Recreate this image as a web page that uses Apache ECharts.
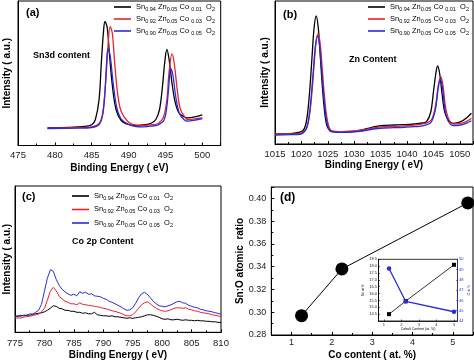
<!DOCTYPE html>
<html><head><meta charset="utf-8">
<script src="https://cdn.jsdelivr.net/npm/echarts@6/dist/echarts.min.js"></script>
<style>html,body{margin:0;padding:0;background:#fff}#c{width:474px;height:363px}</style>
</head><body><div id="c"></div>
<script>
// ---------- Panel (a) Sn3d ----------
const A_black_E = [479,482,484,485,485.5,486,486.3,486.6,486.8,487.1,487.4,487.8,488.3,489,490,491,492,493,493.7,494.2,494.6,494.9,495.2,495.5,495.9,496.3,496.8,497.5,498,499,500];
const A_black_I = [17.7,18,19,20.7,26,46,82,114,124,118,92,60,36,25,21,20,20.7,22,26,36,59,82.7,96,86,62,44,33,28.7,27.7,28.7,30.7];
const A_red_E = [479,483,485,486,486.5,486.9,487.2,487.5,487.8,488.1,488.5,489,490,491,492,493,494,494.7,495.2,495.5,495.9,496.2,496.6,497,497.6,498,499,500];
const A_red_I = [17.3,18,18.7,22,32.7,64,98,119,112,84,53,34,23.3,20.3,20,20.7,22,27.7,46,74,91.7,82,56,37,28.7,26,26.7,27.7];
const A_blue_E = [479,483,485,486,486.5,486.8,487.0,487.2,487.5,487.9,488.4,489,490,491,492,493,494,494.8,495.2,495.5,495.7,496,496.4,496.9,497.5,498,499,500];
const A_blue_I = [17,17.3,18,21,31,54,80,96.7,90,63,38,26.5,21,19,18.7,19.3,20.7,25.3,39.3,63,77,71,49,32,26,24.3,25.3,27];

// ---------- Panel (b) Zn ----------
const B_black_E = [1015,1017.9,1019.4,1020.3,1020.8,1021.2,1021.6,1022.0,1022.4,1022.8,1023.2,1023.6,1024.0,1024.4,1024.8,1025.3,1026.0,1027.3,1028.7,1030.7,1032.6,1034.1,1035.6,1037.5,1039.5,1041.4,1042.9,1043.7,1044.5,1045.05,1045.5,1045.8,1046.2,1046.6,1047.1,1047.8,1048.8,1050.2,1051.2,1052.2];
const B_black_I = [10,10.3,11.5,13.5,19,32,55,86,116,128,116,86,55,32,19,14,12.5,12,12,13.3,15.7,17.7,18.7,19,19.3,20,21,22.3,32,54,72,78,70,52,33,24,20.7,22.3,25.7,30.7];
const B_red_E = [1015,1017.9,1019.9,1020.65,1021.15,1021.55,1021.95,1022.35,1022.75,1023.15,1023.55,1023.95,1024.35,1024.75,1025.15,1025.65,1026.5,1027.7,1029.7,1031.6,1033.6,1035.6,1037.5,1039.5,1041.4,1043.4,1044.6,1045.4,1045.9,1046.4,1046.8,1047.3,1047.9,1048.8,1050.2,1051.2,1052.2];
const B_red_I = [10,10,10.7,13.3,18.2,29,48.6,75,100.6,110.7,100.6,75,48.6,29,18.2,13.3,12.5,12.3,13,14,16,17.3,17.3,18,19,20.7,24,38,58,67.3,59,37,25,20,20.7,22.3,25.7];
const B_blue_E = [1015,1017.9,1019.9,1020.55,1021.05,1021.45,1021.85,1022.25,1022.65,1023.05,1023.45,1023.85,1024.25,1024.65,1025.05,1025.55,1026.4,1027.7,1029.7,1031.6,1033.6,1035.6,1037.5,1039.5,1041.4,1043.4,1044.6,1045.4,1045.9,1046.3,1046.7,1047.2,1047.8,1048.8,1050.2,1051.2,1052.2];
const B_blue_I = [9,9.3,10,12.3,17,27.5,47,73,97.8,108,97.8,73,47,27.5,17,12.3,11.9,11.7,12,13,15,16,16.3,16.7,17.3,18.7,22,35,55,64.7,57,34,23,18.3,19,20.7,23.3];

// ---------- Panel (c) Co 2p ----------
const C_E = [775,775.5,776,776.5,777,777.5,778,778.5,779,779.5,
  780,780.5,781,781.5,782,782.5,783,783.5,784,784.5,
  785,785.5,786,786.5,787,787.5,788,788.5,789,789.5,
  790,790.5,791,791.5,792,792.5,793,793.5,794,794.5,
  795,795.5,796,796.5,797,797.5,798,798.5,799,799.5,
  800,800.5,801,801.5,802,802.5,803,803.5,804,804.5,
  805,805.5,806,806.5,807,807.5,808,808.5,809,809.5,810];
const C_blue_I = [15.7,16.5,16.0,17.2,16.8,18.5,18.2,20.0,22.0,28.0,
  41.0,54.0,62.5,61.0,53.0,47.0,43.0,40.5,38.5,37.0,
  38.0,36.5,40.5,39.0,40.0,38.0,38.5,36.5,36.0,35.5,
  34.0,33.0,31.0,30.0,28.5,27.0,25.5,23.5,22.0,22.5,
  24.5,29.0,34.5,38.5,40.0,38.0,34.5,31.0,28.5,26.5,
  26.0,25.5,26.5,27.5,29.0,30.5,31.0,29.5,29.0,27.0,
  26.0,25.0,24.5,23.0,22.5,21.5,21.0,20.5,19.5,19.0,18.0];
const C_red_I = [14.0,14.5,14.2,15.3,15.7,16.0,16.8,17.5,18.3,20.5,
  24.0,32.0,41.0,45.0,41.5,36.0,33.5,31.0,30.0,28.5,
  28.5,27.5,29.5,28.0,27.5,27.0,26.5,26.0,25.5,25.0,
  24.0,23.5,22.5,21.5,21.0,20.0,19.0,17.5,16.5,16.5,
  17.5,20.5,24.0,27.5,29.5,30.5,28.5,26.0,24.0,22.5,
  21.5,21.0,21.5,22.5,24.0,24.5,24.5,24.0,24.5,23.0,
  22.5,21.5,21.0,20.0,19.5,19.0,18.5,17.5,17.0,16.5,15.5];
const C_black_I = [16.3,16.0,17.0,16.5,17.3,17.0,18.0,18.5,19.0,19.5,
  20.5,22.0,24.0,26.5,26.0,24.0,23.5,22.0,22.0,21.0,
  21.0,20.0,20.0,19.0,19.5,18.5,18.5,20.0,17.5,17.0,
  16.5,16.5,16.0,16.5,15.5,15.5,15.0,14.5,14.0,14.5,
  14.0,14.5,15.0,15.5,16.5,17.5,17.5,17.0,16.0,15.0,
  13.5,13.0,13.5,12.5,12.5,13.0,12.5,12.0,12.5,12.0,
  12.0,11.5,12.0,11.5,11.5,11.0,11.0,10.5,10.5,10.0,9.7];

// ---------- Panel (d) Sn:O ratio + inset ----------
const D_co = [1.25, 2.25, 5.37];
const D_ratio = [0.297, 0.338, 0.396];
const INS_co = [1.3, 2.25, 5.0];
const INS_sn = [14.5, 15.45, 18.1];
const INS_o = [49.1, 45.9, 44.9];

// legend labels: [Sn, Zn, Co]
const LEG = {k: ['0.94','0.05','0.01'], r: ['0.92','0.05','0.03'], b: ['0.90','0.05','0.05']};

const FONT = '"Liberation Sans", Arial, sans-serif';
const BLACK = '#000', RED = '#e8232a', BLUE = '#2b2bdb';

function zip(E, I) { return E.map((e, i) => [e, I[i]]); }

function specX(g, min, max, name, nameGap, margin, showMax) {
  return {gridIndex: g, type: 'value', min, max, interval: 5, name, nameLocation: 'middle', nameGap,
    nameTextStyle: {fontFamily: FONT, fontWeight: 'bold', fontSize: 10, color: '#000'},
    axisLine: {show: true, onZero: false, lineStyle: {color: '#000', width: 1}},
    axisTick: {show: true, inside: true, length: 3, lineStyle: {color: '#000', width: 1}},
    minorTick: {show: true, splitNumber: 2, length: 2, lineStyle: {color: '#000', width: 1}},
    splitLine: {show: false},
    axisLabel: {fontFamily: FONT, fontSize: 9.5, color: '#222', margin, showMaxLabel: showMax, formatter: v => String(v)}};
}
function specY(g, max, nameGap) {
  return {gridIndex: g, type: 'value', min: 0, max, name: 'Intensity ( a.u.)', nameLocation: 'middle', nameGap,
    nameTextStyle: {fontFamily: FONT, fontWeight: 'bold', fontSize: 10, color: '#000'},
    axisLine: {show: true, onZero: false, lineStyle: {color: '#000', width: 1}},
    axisTick: {show: false}, axisLabel: {show: false}, splitLine: {show: false}};
}
function spec(name, ai, data, color, width, smooth) {
  return {type: 'line', name, xAxisIndex: ai, yAxisIndex: ai, data, symbol: 'none', smooth,
    lineStyle: {color, width}, itemStyle: {color}, silent: true, animation: false};
}
function grid(left, top, width, height) {
  return {left, top, width, height, show: true, borderColor: '#000', borderWidth: 1, backgroundColor: 'transparent'};
}
const legendRich = {
  a: {fontFamily: FONT, fontSize: 7.5, color: '#000', lineHeight: 9, verticalAlign: 'top'},
  s: {fontFamily: FONT, fontSize: 5.5, color: '#000', lineHeight: 6, padding: [4, 0, 0, 0]}
};
function legendFmt(n) {
  const m = LEG[n];
  return '{a|Sn}{s|' + m[0] + '}{a| Zn}{s|' + m[1] + '}{a| Co }{s|' + m[2] + '}{a|  O}{s|2}';
}
function legend(left, top, gap) {
  return {left, top, orient: 'vertical', icon: 'rect', itemWidth: 17, itemHeight: 1.6, itemGap: gap, padding: 0,
    data: ['k', 'r', 'b'], formatter: legendFmt, selectedMode: false,
    textStyle: {rich: legendRich}};
}
function label(text, x, y, size) {
  return {type: 'text', x, y, style: {text, font: 'bold ' + size + 'px ' + FONT, fill: '#000', verticalAlign: 'middle', align: 'left'}};
}

const option = {
  backgroundColor: '#fff',
  animation: false,
  grid: [
    grid(18, 1, 202.7, 144.5),
    grid(275, 1, 198, 143),
    grid(15, 186, 206, 146.3),
    grid(271.3, 187, 201.7, 148),
    {left: 378.5, top: 259.3, width: 79, height: 61.7, show: true, borderColor: '#000', borderWidth: 0.8, backgroundColor: '#fff'}
  ],
  xAxis: [
    specX(0, 475, 502.5, 'Binding Energy ( eV)', 17.5, 5, false),
    specX(1, 1015, 1052.5, 'Binding Energy ( eV)', 16, 5, false),
    specX(2, 775, 810, 'Binding Energy ( eV)', 17.5, 6, true),
    {gridIndex: 3, type: 'value', min: 0.5, max: 5.5, name: 'Co content ( at. %)', nameLocation: 'middle', nameGap: 15,
      nameTextStyle: {fontFamily: FONT, fontWeight: 'bold', fontSize: 10, color: '#000'},
      axisLine: {show: true, onZero: false, lineStyle: {color: '#000'}},
      axisTick: {inside: true, length: 3, lineStyle: {color: '#000'}},
      minorTick: {show: true, splitNumber: 2, length: 2, lineStyle: {color: '#000'}},
      splitLine: {show: false},
      axisLabel: {fontFamily: FONT, fontSize: 9, color: '#222', margin: 3.5, showMinLabel: false, showMaxLabel: false}},
    {gridIndex: 4, type: 'value', min: 0.7, max: 5.2, name: 'Cobalt Content (at. %)', nameLocation: 'middle', nameGap: 6,
      nameTextStyle: {fontFamily: FONT, fontSize: 3.5, color: '#000'},
      axisLine: {show: true, onZero: false, lineStyle: {color: '#000', width: 0.8}},
      axisTick: {inside: true, length: 1.5, lineStyle: {color: '#000', width: 0.6}},
      splitLine: {show: false},
      axisLabel: {fontFamily: FONT, fontSize: 4, color: '#222', margin: 1.5, showMinLabel: false, showMaxLabel: false}}
  ],
  yAxis: [
    specY(0, 144.5, 6),
    specY(1, 143, 4.5),
    specY(2, 146.3, 3),
    {gridIndex: 3, type: 'value', min: 0.28, max: 0.41, interval: 0.02, name: 'Sn:O atomic  ratio', nameLocation: 'middle', nameGap: 25,
      nameTextStyle: {fontFamily: FONT, fontWeight: 'bold', fontSize: 10, color: '#000'},
      axisLine: {show: true, onZero: false, lineStyle: {color: '#000'}},
      axisTick: {inside: true, length: 3, lineStyle: {color: '#000'}},
      minorTick: {show: true, splitNumber: 2, length: 2, lineStyle: {color: '#000'}},
      splitLine: {show: false},
      axisLabel: {fontFamily: FONT, fontSize: 9, color: '#222', margin: 5, showMaxLabel: false, formatter: v => v.toFixed(2)}},
    {gridIndex: 4, type: 'value', min: 14, max: 18.5, interval: 0.5, name: 'Sn at %', nameLocation: 'middle', nameGap: 9,
      nameTextStyle: {fontFamily: FONT, fontSize: 3.5, color: '#000'},
      axisLine: {show: true, onZero: false, lineStyle: {color: '#000', width: 0.8}},
      axisTick: {inside: true, length: 1.5, lineStyle: {color: '#000', width: 0.6}},
      splitLine: {show: false},
      axisLabel: {fontFamily: FONT, fontSize: 4, color: '#222', margin: 1.5, showMinLabel: false, formatter: v => v.toFixed(1)}},
    {gridIndex: 4, type: 'value', position: 'right', min: 44, max: 50, interval: 1, name: 'O at %', nameLocation: 'middle', nameGap: 7,
      nameTextStyle: {fontFamily: FONT, fontSize: 3.5, color: BLUE},
      axisLine: {show: true, onZero: false, lineStyle: {color: BLUE, width: 0.8}},
      axisTick: {inside: true, length: 1.5, lineStyle: {color: BLUE, width: 0.6}},
      splitLine: {show: false},
      axisLabel: {fontFamily: FONT, fontSize: 4, color: BLUE, margin: 1.5}}
  ],
  legend: [legend(114, 2, 2), legend(368, 2, 2), legend(72, 191, 3.5)],
  series: [
    spec('k', 0, zip(A_black_E, A_black_I), BLACK, 1.3, 0.35),
    spec('r', 0, zip(A_red_E, A_red_I), RED, 1.3, 0.35),
    spec('b', 0, zip(A_blue_E, A_blue_I), BLUE, 1.3, 0.35),
    spec('k', 1, zip(B_black_E, B_black_I), BLACK, 1.3, 0.35),
    spec('r', 1, zip(B_red_E, B_red_I), RED, 1.3, 0.35),
    spec('b', 1, zip(B_blue_E, B_blue_I), BLUE, 1.3, 0.35),
    spec('k', 2, zip(C_E, C_black_I), BLACK, 1, false),
    spec('r', 2, zip(C_E, C_red_I), RED, 1, false),
    spec('b', 2, zip(C_E, C_blue_I), BLUE, 1, false),
    {type: 'line', xAxisIndex: 3, yAxisIndex: 3, data: zip(D_co, D_ratio), symbol: 'circle', symbolSize: 13,
      lineStyle: {color: '#000', width: 1}, itemStyle: {color: '#000'}, silent: true, z: 3},
    {type: 'line', xAxisIndex: 4, yAxisIndex: 4, data: zip(INS_co, INS_sn), symbol: 'rect', symbolSize: 4,
      lineStyle: {color: '#000', width: 0.8}, itemStyle: {color: '#000'}, silent: true, z: 5},
    {type: 'line', xAxisIndex: 4, yAxisIndex: 5, data: zip(INS_co, INS_o), symbol: 'circle', symbolSize: 4.5,
      lineStyle: {color: BLUE, width: 1.3}, itemStyle: {color: BLUE}, silent: true, z: 5}
  ],
  graphic: [
    label('(a)', 26, 13, 11),
    label('Sn3d content', 33, 56, 9),
    label('(b)', 283, 15, 11),
    label('Zn Content', 349, 60, 9),
    label('(c)', 22, 196.5, 11),
    label('Co 2p Content', 72, 242, 9),
    label('(d)', 280, 198, 12)
  ]
};
const chart = echarts.init(document.getElementById('c'), null, {renderer: 'canvas'});
chart.setOption(option);
</script></body></html>
